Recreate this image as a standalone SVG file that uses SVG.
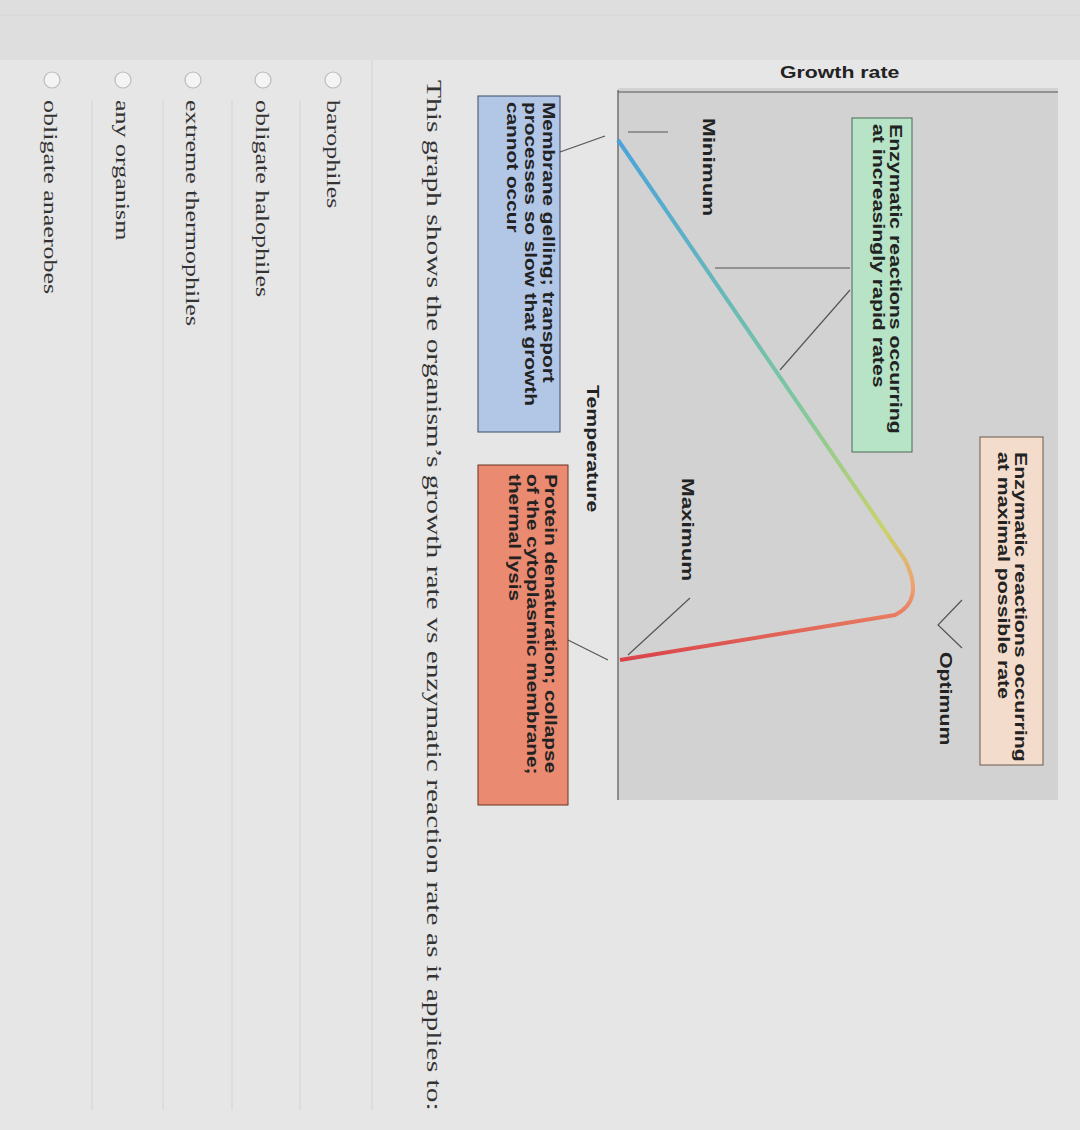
<svg xmlns="http://www.w3.org/2000/svg" width="1080" height="1130" viewBox="0 0 1080 1130">
<style>
.b{font-family:"Liberation Sans",Arial,sans-serif;font-weight:bold;font-size:16px;fill:#222}
.s{font-family:"Liberation Serif","Times New Roman",serif;fill:#333}
.ln{stroke:#555;stroke-width:1.2;fill:none}
.sep{stroke:#d4d4d4;stroke-width:1}
.rad{fill:#f4f4f4;stroke:#bbb;stroke-width:1.2}
</style>
<defs>
<linearGradient id="g" gradientUnits="userSpaceOnUse" x1="0" y1="140" x2="0" y2="660">
<stop offset="0" stop-color="#4aa3dc"/><stop offset="0.5" stop-color="#7cc7a0"/><stop offset="0.75" stop-color="#c9d36a"/><stop offset="0.86" stop-color="#f0a070"/><stop offset="1" stop-color="#d9424a"/>
</linearGradient>
</defs>
<rect width="1080" height="1130" fill="#e6e6e6"/>
<rect x="0" y="0" width="1080" height="60" fill="#dedede"/>
<line x1="0" y1="15" x2="1080" y2="15" class="sep"/>
<line x1="372" y1="60" x2="372" y2="1110" class="sep"/>
<g id="graph">
<rect x="618" y="88" width="440" height="712" fill="#d2d2d2"/>
<line x1="618" y1="92" x2="1058" y2="92" class="ln"/>
<line x1="618" y1="90" x2="618" y2="800" class="ln"/>
<text class="b" transform="translate(780,78) scale(1.33,1)" font-size="17">Growth rate</text>
<path d="M618 140 L905 560 Q925 600 895 615 L620 660" fill="none" stroke="url(#g)" stroke-width="4"/>
</g>
<g id="connectors">
<polyline class="ln" points="962,600 938,625 962,648"/>
<line class="ln" x1="715" y1="268" x2="850" y2="268"/>
<line class="ln" x1="850" y1="290" x2="780" y2="370"/>
<line class="ln" x1="628" y1="132" x2="668" y2="132"/>
<line class="ln" x1="560" y1="152" x2="605" y2="136"/>
<line class="ln" x1="690" y1="598" x2="628" y2="655"/>
<line class="ln" x1="568" y1="640" x2="608" y2="660"/>
</g>
<g id="n-opt-box">
<rect x="980" y="437" width="63" height="328" fill="#f3dccb" stroke="#6b5a4a"/>
<text class="b" transform="translate(1015,452) rotate(90) scale(1.33,1)"><tspan x="0" y="0">Enzymatic reactions occurring</tspan><tspan x="0" y="17">at maximal possible rate</tspan></text>
</g>
<g id="n-optimum"><text class="b" transform="translate(940,652) rotate(90) scale(1.33,1)">Optimum</text></g>
<g id="n-green">
<rect x="852" y="118" width="60" height="334" fill="#b7e3c6" stroke="#4a6a55"/>
<text class="b" transform="translate(890,124) rotate(90) scale(1.33,1)"><tspan x="0" y="0">Enzymatic reactions occurring</tspan><tspan x="0" y="17">at increasingly rapid rates</tspan></text>
</g>
<g id="n-minimum"><text class="b" transform="translate(703,118) rotate(90) scale(1.4,1)">Minimum</text></g>
<g id="n-maximum"><text class="b" transform="translate(682,478) rotate(90) scale(1.4,1)">Maximum</text></g>
<g id="n-temp"><text class="b" transform="translate(587,385) rotate(90) scale(1.33,1)">Temperature</text></g>
<g id="n-blue">
<rect x="478" y="96" width="82" height="336" fill="#b2c6e6" stroke="#3a4a66"/>
<text class="b" transform="translate(543,102) rotate(90) scale(1.3,1)"><tspan x="0" y="0">Membrane gelling; transport</tspan><tspan x="0" y="18">processes so slow that growth</tspan><tspan x="0" y="36">cannot occur</tspan></text>
</g>
<g id="n-red">
<rect x="478" y="465" width="90" height="340" fill="#ea8a70" stroke="#6a3020"/>
<text class="b" transform="translate(545,474) rotate(90) scale(1.3,1)"><tspan x="0" y="0">Protein denaturation; collapse</tspan><tspan x="0" y="18">of the cytoplasmic membrane;</tspan><tspan x="0" y="36">thermal lysis</tspan></text>
</g>
<g id="question">
<text class="s" font-size="22" transform="translate(427,80) rotate(90) scale(1.34,1)">This graph shows the organism’s growth rate vs enzymatic reaction rate as it applies to:</text>
<line class="sep" x1="300" y1="100" x2="300" y2="1110"/>
<line class="sep" x1="232" y1="100" x2="232" y2="1110"/>
<line class="sep" x1="163" y1="100" x2="163" y2="1110"/>
<line class="sep" x1="92" y1="100" x2="92" y2="1110"/>
<circle class="rad" cx="333" cy="80" r="8"/><text class="s" font-size="19" transform="translate(327,100) rotate(90) scale(1.37,1)">barophiles</text>
<circle class="rad" cx="263" cy="80" r="8"/><text class="s" font-size="19" transform="translate(256,100) rotate(90) scale(1.37,1)">obligate halophiles</text>
<circle class="rad" cx="193" cy="80" r="8"/><text class="s" font-size="19" transform="translate(186,100) rotate(90) scale(1.37,1)">extreme thermophiles</text>
<circle class="rad" cx="123" cy="80" r="8"/><text class="s" font-size="19" transform="translate(116,100) rotate(90) scale(1.37,1)">any organism</text>
<circle class="rad" cx="52" cy="80" r="8"/><text class="s" font-size="19" transform="translate(44,100) rotate(90) scale(1.37,1)">obligate anaerobes</text>
</g>
</svg>
